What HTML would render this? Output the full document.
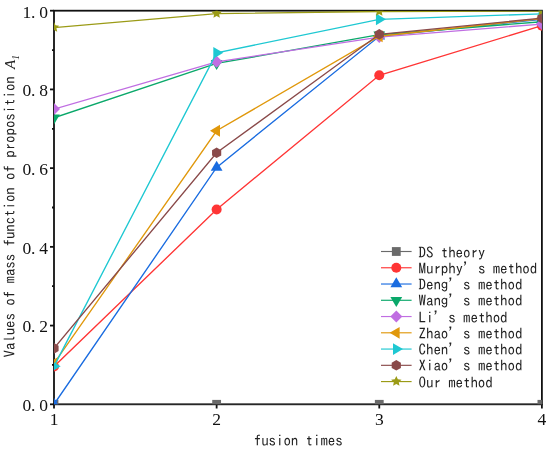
<!DOCTYPE html>
<html><head><meta charset="utf-8"><style>
html,body{margin:0;padding:0;background:#fff;}
svg{display:block;}
.tk{font-family:"Liberation Serif",serif;font-size:17.5px;fill:#111;}
.mono{font-family:"IPAGothic","Liberation Mono",monospace;font-size:15px;letter-spacing:-0.1px;fill:#222;}
</style></head><body>
<svg width="550" height="451" viewBox="0 0 550 451">
<rect width="550" height="451" fill="#fff"/>
<defs><clipPath id="c"><rect x="54.0" y="10.7" width="487.90" height="393.60"/></clipPath></defs>
<g stroke="#111" stroke-width="1.8" fill="none">
<rect x="54.0" y="10.7" width="487.90" height="393.60"/>
<line x1="50" y1="404.30" x2="54.0" y2="404.30"/>
<line x1="50" y1="325.58" x2="54.0" y2="325.58"/>
<line x1="50" y1="246.86" x2="54.0" y2="246.86"/>
<line x1="50" y1="168.14" x2="54.0" y2="168.14"/>
<line x1="50" y1="89.42" x2="54.0" y2="89.42"/>
<line x1="50" y1="10.70" x2="54.0" y2="10.70"/>
<line x1="52" y1="364.94" x2="54.0" y2="364.94"/>
<line x1="52" y1="286.22" x2="54.0" y2="286.22"/>
<line x1="52" y1="207.50" x2="54.0" y2="207.50"/>
<line x1="52" y1="128.78" x2="54.0" y2="128.78"/>
<line x1="52" y1="50.06" x2="54.0" y2="50.06"/>
<line x1="54.00" y1="404.3" x2="54.00" y2="408.5"/>
<line x1="216.63" y1="404.3" x2="216.63" y2="408.5"/>
<line x1="379.27" y1="404.3" x2="379.27" y2="408.5"/>
<line x1="541.90" y1="404.3" x2="541.90" y2="408.5"/>
</g>
<g clip-path="url(#c)">
<polyline points="54.00,404.30 216.63,404.30 379.27,404.30 541.90,404.30" fill="none" stroke="#6a6a6a" stroke-width="1.35"/>
<rect x="49.60" y="399.90" width="8.80" height="8.80" fill="#6a6a6a"/>
<rect x="212.23" y="399.90" width="8.80" height="8.80" fill="#6a6a6a"/>
<rect x="374.87" y="399.90" width="8.80" height="8.80" fill="#6a6a6a"/>
<rect x="537.50" y="399.90" width="8.80" height="8.80" fill="#6a6a6a"/>
<polyline points="54.00,366.51 216.63,209.47 379.27,75.25 541.90,25.66" fill="none" stroke="#ff3535" stroke-width="1.35"/>
<circle cx="54.00" cy="366.51" r="5.00" fill="#ff3535"/>
<circle cx="216.63" cy="209.47" r="5.00" fill="#ff3535"/>
<circle cx="379.27" cy="75.25" r="5.00" fill="#ff3535"/>
<circle cx="541.90" cy="25.66" r="5.00" fill="#ff3535"/>
<polyline points="54.00,404.30 216.63,167.35 379.27,36.28 541.90,19.36" fill="none" stroke="#1a6ce0" stroke-width="1.35"/>
<polygon points="54.00,397.63 59.90,407.63 48.10,407.63" fill="#1a6ce0"/>
<polygon points="216.63,160.69 222.53,170.69 210.73,170.69" fill="#1a6ce0"/>
<polygon points="379.27,29.62 385.17,39.62 373.37,39.62" fill="#1a6ce0"/>
<polygon points="541.90,12.69 547.80,22.69 536.00,22.69" fill="#1a6ce0"/>
<polyline points="54.00,117.76 216.63,63.44 379.27,34.71 541.90,21.72" fill="none" stroke="#0aa86a" stroke-width="1.35"/>
<polygon points="54.00,124.43 59.90,114.43 48.10,114.43" fill="#0aa86a"/>
<polygon points="216.63,70.11 222.53,60.11 210.73,60.11" fill="#0aa86a"/>
<polygon points="379.27,41.38 385.17,31.38 373.37,31.38" fill="#0aa86a"/>
<polygon points="541.90,28.39 547.80,18.39 536.00,18.39" fill="#0aa86a"/>
<polyline points="54.00,109.10 216.63,61.87 379.27,37.07 541.90,24.08" fill="none" stroke="#c06ee2" stroke-width="1.35"/>
<polygon points="54.00,103.10 60.00,109.10 54.00,115.10 48.00,109.10" fill="#c06ee2"/>
<polygon points="216.63,55.87 222.63,61.87 216.63,67.87 210.63,61.87" fill="#c06ee2"/>
<polygon points="379.27,31.07 385.27,37.07 379.27,43.07 373.27,37.07" fill="#c06ee2"/>
<polygon points="541.90,18.08 547.90,24.08 541.90,30.08 535.90,24.08" fill="#c06ee2"/>
<polyline points="54.00,363.37 216.63,130.75 379.27,36.28 541.90,18.57" fill="none" stroke="#e0980c" stroke-width="1.35"/>
<polygon points="47.33,363.37 57.33,357.47 57.33,369.27" fill="#e0980c"/>
<polygon points="209.97,130.75 219.97,124.85 219.97,136.65" fill="#e0980c"/>
<polygon points="372.60,36.28 382.60,30.38 382.60,42.18" fill="#e0980c"/>
<polygon points="535.23,18.57 545.23,12.67 545.23,24.47" fill="#e0980c"/>
<polyline points="54.00,366.32 216.63,52.82 379.27,19.36 541.90,13.85" fill="none" stroke="#1ec8d2" stroke-width="1.35"/>
<polygon points="60.67,366.32 50.67,360.42 50.67,372.22" fill="#1ec8d2"/>
<polygon points="223.30,52.82 213.30,46.92 213.30,58.72" fill="#1ec8d2"/>
<polygon points="385.93,19.36 375.93,13.46 375.93,25.26" fill="#1ec8d2"/>
<polygon points="548.57,13.85 538.57,7.95 538.57,19.75" fill="#1ec8d2"/>
<polyline points="54.00,348.41 216.63,152.79 379.27,34.32 541.90,18.18" fill="none" stroke="#8a4a4a" stroke-width="1.35"/>
<polygon points="54.00,343.11 58.59,345.76 58.59,351.06 54.00,353.71 49.41,351.06 49.41,345.76" fill="#8a4a4a"/>
<polygon points="216.63,147.49 221.22,150.14 221.22,155.44 216.63,158.09 212.04,155.44 212.04,150.14" fill="#8a4a4a"/>
<polygon points="379.27,29.02 383.86,31.67 383.86,36.97 379.27,39.62 374.68,36.97 374.68,31.67" fill="#8a4a4a"/>
<polygon points="541.90,12.88 546.49,15.53 546.49,20.83 541.90,23.48 537.31,20.83 537.31,15.53" fill="#8a4a4a"/>
<polyline points="54.00,27.62 216.63,13.61 379.27,11.49 541.90,11.09" fill="none" stroke="#9b9b16" stroke-width="1.35"/>
<polygon points="54.00,21.92 55.53,25.32 59.23,25.73 56.47,28.23 57.23,31.87 54.00,30.02 50.77,31.87 51.53,28.23 48.77,25.73 52.47,25.32" fill="#9b9b16"/>
<polygon points="216.63,7.91 218.16,11.31 221.86,11.71 219.11,14.22 219.87,17.86 216.63,16.01 213.40,17.86 214.16,14.22 211.40,11.71 215.11,11.31" fill="#9b9b16"/>
<polygon points="379.27,5.79 380.79,9.18 384.50,9.59 381.74,12.09 382.50,15.74 379.27,13.89 376.03,15.74 376.79,12.09 374.04,9.59 377.74,9.18" fill="#9b9b16"/>
<polygon points="541.90,5.39 543.43,8.79 547.13,9.19 544.37,11.70 545.13,15.34 541.90,13.49 538.67,15.34 539.43,11.70 536.67,9.19 540.37,8.79" fill="#9b9b16"/>
</g>
<text class="tk" x="22.6 31.1 39.3" y="411.20">0.0</text>
<text class="tk" x="22.6 31.1 39.3" y="332.48">0.2</text>
<text class="tk" x="22.6 31.1 39.3" y="253.76">0.4</text>
<text class="tk" x="22.6 31.1 39.3" y="175.04">0.6</text>
<text class="tk" x="22.6 31.1 39.3" y="96.32">0.8</text>
<text class="tk" x="22.6 31.1 39.3" y="17.60">1.0</text>
<text class="tk" x="54.00" y="424.9" text-anchor="middle">1</text>
<text class="tk" x="216.63" y="424.9" text-anchor="middle">2</text>
<text class="tk" x="379.27" y="424.9" text-anchor="middle">3</text>
<text class="tk" x="541.90" y="424.9" text-anchor="middle">4</text>
<text class="mono" x="253.8" y="446.2" xml:space="preserve">fusion times</text>
<text class="mono" transform="translate(14.6,357.5) rotate(-90)" xml:space="preserve">Values of mass function of proposition <tspan font-family="Liberation Serif" font-style="italic" font-size="15">A</tspan><tspan font-family="Liberation Serif" font-style="italic" font-size="9.5" dy="4">1</tspan></text>
<line x1="381" y1="251.50" x2="411.6" y2="251.50" stroke="#6a6a6a" stroke-width="1.15"/>
<rect x="391.90" y="247.10" width="8.80" height="8.80" fill="#6a6a6a"/>
<text class="mono" x="418.6" y="257.60" xml:space="preserve">DS theory</text>
<line x1="381" y1="267.76" x2="411.6" y2="267.76" stroke="#ff3535" stroke-width="1.15"/>
<circle cx="396.30" cy="267.76" r="5.00" fill="#ff3535"/>
<text class="mono" x="418.6" y="273.86" xml:space="preserve">Murphy’s method</text>
<line x1="381" y1="284.02" x2="411.6" y2="284.02" stroke="#1a6ce0" stroke-width="1.15"/>
<polygon points="396.30,277.35 402.20,287.35 390.40,287.35" fill="#1a6ce0"/>
<text class="mono" x="418.6" y="290.12" xml:space="preserve">Deng’s method</text>
<line x1="381" y1="300.28" x2="411.6" y2="300.28" stroke="#0aa86a" stroke-width="1.15"/>
<polygon points="396.30,306.95 402.20,296.95 390.40,296.95" fill="#0aa86a"/>
<text class="mono" x="418.6" y="306.38" xml:space="preserve">Wang’s method</text>
<line x1="381" y1="316.54" x2="411.6" y2="316.54" stroke="#c06ee2" stroke-width="1.15"/>
<polygon points="396.30,310.54 402.30,316.54 396.30,322.54 390.30,316.54" fill="#c06ee2"/>
<text class="mono" x="418.6" y="322.64" xml:space="preserve">Li’s method</text>
<line x1="381" y1="332.80" x2="411.6" y2="332.80" stroke="#e0980c" stroke-width="1.15"/>
<polygon points="389.63,332.80 399.63,326.90 399.63,338.70" fill="#e0980c"/>
<text class="mono" x="418.6" y="338.90" xml:space="preserve">Zhao’s method</text>
<line x1="381" y1="349.06" x2="411.6" y2="349.06" stroke="#1ec8d2" stroke-width="1.15"/>
<polygon points="402.97,349.06 392.97,343.16 392.97,354.96" fill="#1ec8d2"/>
<text class="mono" x="418.6" y="355.16" xml:space="preserve">Chen’s method</text>
<line x1="381" y1="365.32" x2="411.6" y2="365.32" stroke="#8a4a4a" stroke-width="1.15"/>
<polygon points="396.30,360.02 400.89,362.67 400.89,367.97 396.30,370.62 391.71,367.97 391.71,362.67" fill="#8a4a4a"/>
<text class="mono" x="418.6" y="371.42" xml:space="preserve">Xiao’s method</text>
<line x1="381" y1="381.58" x2="411.6" y2="381.58" stroke="#9b9b16" stroke-width="1.15"/>
<polygon points="396.30,375.88 397.83,379.28 401.53,379.68 398.77,382.18 399.53,385.83 396.30,383.98 393.07,385.83 393.83,382.18 391.07,379.68 394.77,379.28" fill="#9b9b16"/>
<text class="mono" x="418.6" y="387.68" xml:space="preserve">Our method</text>
</svg></body></html>
